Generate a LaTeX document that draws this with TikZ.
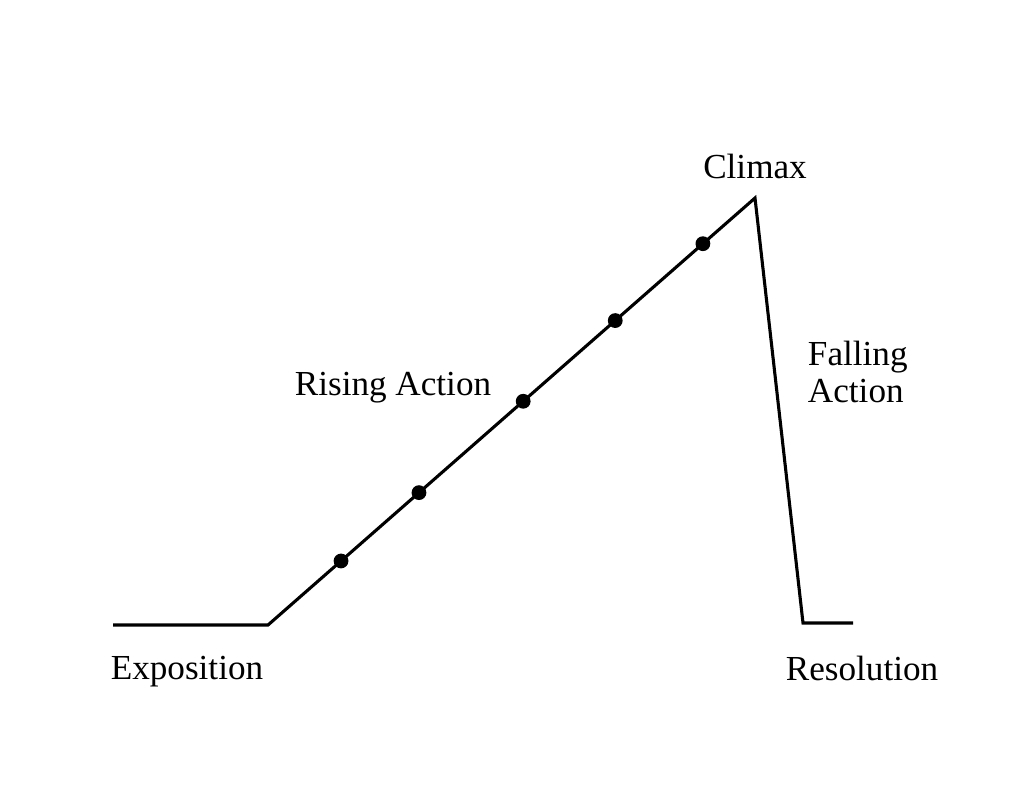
\documentclass[tikz,border=0pt]{standalone}
\usepackage{fontspec}
\setmainfont{Liberation Serif}
\usetikzlibrary{positioning}

\begin{document}
\begin{tikzpicture}[
    x = 0.025cm,
    y = -0.025cm,
    plotline/.style = {line width = 2.2pt, line join = miter},
    dot/.style = {circle, fill, inner sep = 0pt, minimum size = 0.37cm},
    word/.style = {font = \fontsize{25}{26}\selectfont}
]
\useasboundingbox (0,0) rectangle (1024,791);

% Points of the plot
\coordinate (left)  at (113,625);
\coordinate (start) at (268,625);
\coordinate (peak)  at (755,198);
\coordinate (end)   at (803,623);
\coordinate (right) at (853,623);

\draw[plotline] (left) -- (start) -- (peak) -- (end) -- (right);

% Events on the rising action
\path (start) -- (peak)
    node[dot, pos = 0.150] (e1) {}
    node[dot, pos = 0.310] (e2) {}
    node[dot, pos = 0.524] (e3) {}
    node[dot, pos = 0.713] (e4) {}
    node[dot, pos = 0.893] (e5) {};

% Labels
\node[word]                         (expo)    at (187,672) {Exposition};
\node[word]                         (rising)  at (393,388) {Rising Action};
\node[word]                         (climax)  at (755,166) {Climax};
\node[word, anchor = west, align = left] (falling) at (803,372) {Falling\\Action};
\node[word]                         (resol)   at (862,668) {Resolution};

\end{tikzpicture}
\end{document}
